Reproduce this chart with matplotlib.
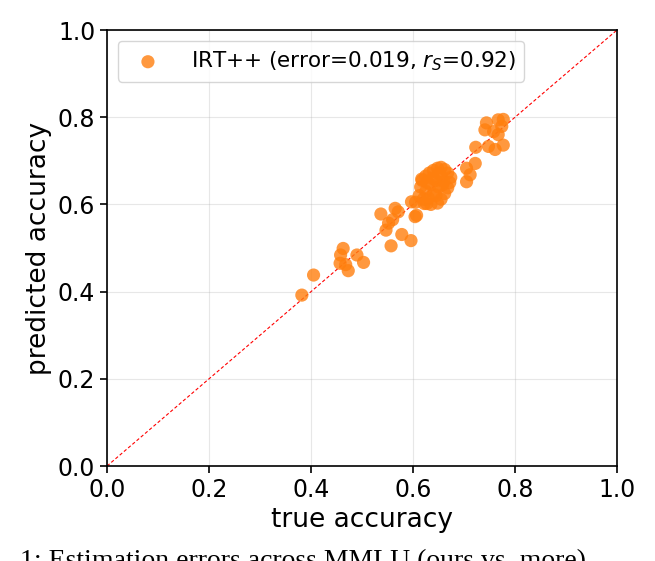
import matplotlib
matplotlib.use('Agg')
import matplotlib.pyplot as plt
import numpy as np

# true vs predicted accuracy
true_acc = [0.382, 0.405, 0.463, 0.458, 0.457, 0.473, 0.490, 0.503, 0.468,
            0.537, 0.565, 0.557, 0.578, 0.596, 0.547, 0.552, 0.560, 0.571,
            0.604, 0.607, 0.597, 0.617, 0.627,
            0.605, 0.612, 0.615, 0.618, 0.625, 0.632, 0.640, 0.648, 0.655,
            0.662, 0.668, 0.674, 0.672, 0.668, 0.662, 0.655, 0.648, 0.635,
            0.622, 0.625, 0.635, 0.645, 0.655, 0.640, 0.650, 0.660, 0.630,
            0.645, 0.628, 0.650, 0.638, 0.658, 0.620,
            0.705, 0.705, 0.712, 0.722, 0.723, 0.748, 0.761, 0.777,
            0.741, 0.744, 0.767, 0.777, 0.774, 0.767, 0.758]
pred_acc = [0.392, 0.438, 0.499, 0.484, 0.465, 0.448, 0.484, 0.467, 0.462,
            0.578, 0.591, 0.505, 0.531, 0.517, 0.541, 0.557, 0.565, 0.583,
            0.572, 0.575, 0.606, 0.658, 0.602,
            0.605, 0.620, 0.640, 0.655, 0.665, 0.672, 0.678, 0.683, 0.685,
            0.680, 0.672, 0.662, 0.650, 0.638, 0.625, 0.612, 0.603, 0.600,
            0.602, 0.630, 0.645, 0.655, 0.665, 0.625, 0.640, 0.652, 0.615,
            0.620, 0.650, 0.670, 0.660, 0.645, 0.612,
            0.652, 0.683, 0.668, 0.694, 0.731, 0.733, 0.726, 0.736,
            0.771, 0.787, 0.794, 0.795, 0.779, 0.760, 0.767]

label = 'IRT++ (error=0.019, $r_S$=0.92)'
caption = '1: Estimation errors across MMLU (ours vs. more)'

fig = plt.figure(figsize=(6.55, 5.61), dpi=100)
ax = fig.add_axes([0.1634, 0.1693, 0.7786, 0.7772])

ax.scatter(true_acc, pred_acc, s=90, color='tab:orange', alpha=0.8,
           edgecolors='none', label=label, zorder=3)
ax.plot([0, 1], [0, 1], color='red', linestyle='--', linewidth=0.8,
        dashes=(3, 2), zorder=2)

ax.set_xlim(0, 1)
ax.set_ylim(0, 1)
ax.set_xticks(np.arange(0, 1.01, 0.2))
ax.set_yticks(np.arange(0, 1.01, 0.2))
ax.tick_params(labelsize=17, length=5, width=1.2)
ax.grid(True, alpha=0.3)
ax.set_xlabel('true accuracy', fontsize=19)
ax.set_ylabel('predicted accuracy', fontsize=19)
for sp in ax.spines.values():
    sp.set_linewidth(1.2)

ax.legend(loc='upper left', fontsize=15.5, handletextpad=1.0,
          borderpad=0.4)

fig.text(20 / 655, -0.013, caption, fontsize=20, family='Liberation Serif',
         ha='left', va='baseline')

fig.savefig('out.png', dpi=100)
